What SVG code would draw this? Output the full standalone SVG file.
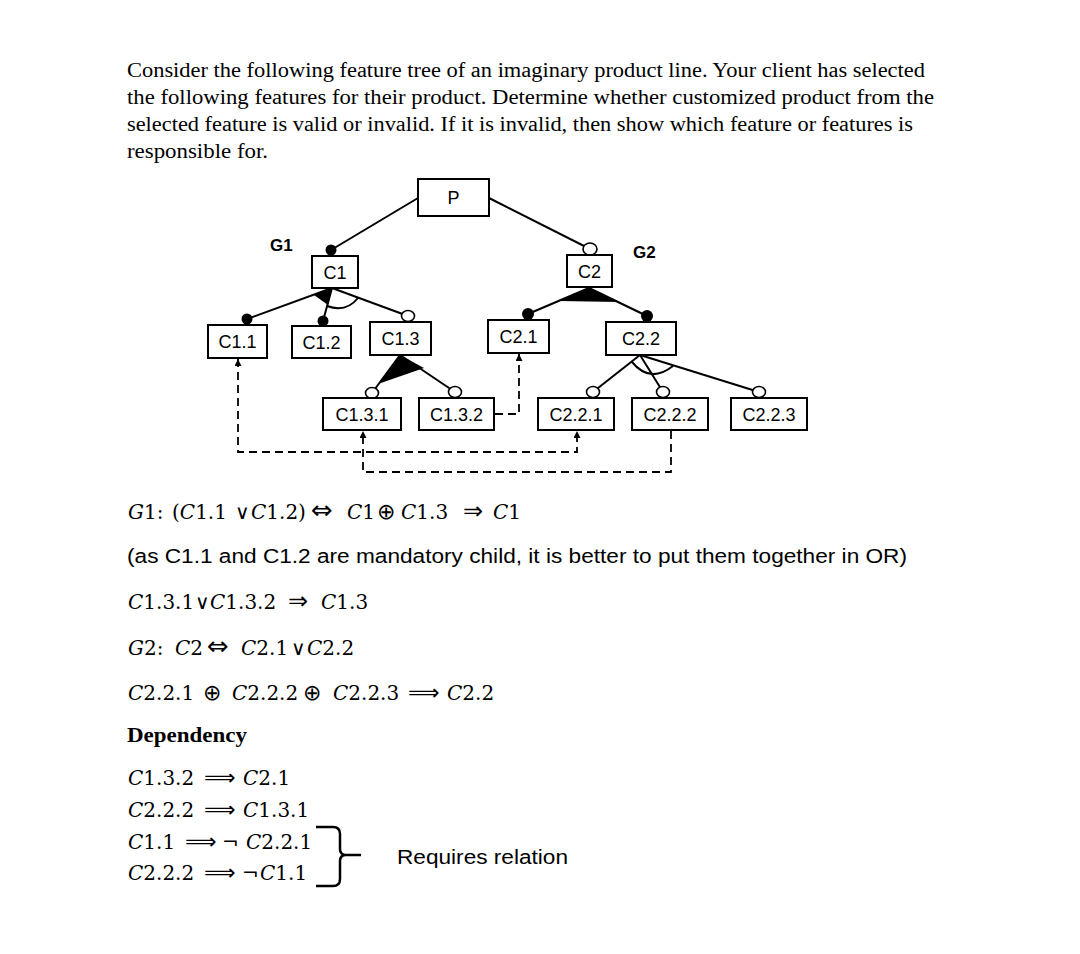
<svg xmlns="http://www.w3.org/2000/svg" width="1080" height="954" viewBox="0 0 1080 954">
<defs>
<style>
.box{fill:#fff;stroke:#000;stroke-width:2}
.lbl{font-family:"Liberation Sans","Open Sans",sans-serif;font-size:18px;text-anchor:middle;fill:#000}
.grp{font-family:"Liberation Sans",sans-serif;font-size:17px;font-weight:bold;fill:#000}
.ln{stroke:#000;stroke-width:2;fill:none}
.dot{fill:#000}
.hol{fill:#fff;stroke:#000;stroke-width:1.6}
.dash{stroke:#000;stroke-width:1.8;fill:none;stroke-dasharray:8 5}
.para{font-family:"Liberation Serif","DejaVu Serif",serif;font-size:20px;fill:#000}
.m{font-family:"DejaVu Serif","Liberation Serif",serif;font-size:20px;fill:#000}
.i{font-style:italic}
.s{font-family:"DejaVu Sans",sans-serif;font-style:normal}
.sans{font-family:"Liberation Sans","Open Sans",sans-serif;font-size:20px;fill:#000}
</style>
<marker id="arr" markerUnits="userSpaceOnUse" markerWidth="7" markerHeight="7" viewBox="0 0 10 10" refX="10" refY="5" orient="auto-start-reverse">
<path d="M0,0 L10,5 L0,10 z" fill="#000"/>
</marker>
</defs>
<rect width="1080" height="954" fill="#fff"/>

<g id="question">
<text class="para" x="127" y="77" textLength="798" lengthAdjust="spacingAndGlyphs">Consider the following feature tree of an imaginary product line. Your client has selected</text>
<text class="para" x="127" y="104" textLength="807" lengthAdjust="spacingAndGlyphs">the following features for their product. Determine whether customized product from the</text>
<text class="para" x="127" y="131" textLength="786" lengthAdjust="spacingAndGlyphs">selected feature is valid or invalid. If it is invalid, then show which feature or features is</text>
<text class="para" x="127" y="158" textLength="141" lengthAdjust="spacingAndGlyphs">responsible for.</text>
</g>

<g id="connectors">
<path class="ln" d="M418 198 L331 250"/>
<path class="ln" d="M489 198 L590 249"/>
<path class="ln" d="M332 288 L247 319"/>
<path class="ln" d="M332 288 L323 321"/>
<path class="ln" d="M332 288 L408 316"/>
<path class="ln" d="M400 355 L372 393"/>
<path class="ln" d="M400 355 L455 392"/>
<path class="ln" d="M589 288 L528 314"/>
<path class="ln" d="M589 288 L647 316"/>
<path class="ln" d="M640 355 L593 392"/>
<path class="ln" d="M640 355 L663 392"/>
<path class="ln" d="M640 355 L759 392"/>
<polygon points="332,288 314,295 328,305" fill="#000"/>
<polygon points="400,355 378,384 424,368" fill="#000"/>
<polygon points="589,288 559,301 619,302" fill="#000"/>
<path class="ln" d="M327 306 Q346 313 358 298"/>
<path class="ln" d="M632 362 Q650 384 673 366"/>
<circle class="dot" cx="331" cy="250" r="5.5"/>
<circle class="dot" cx="247" cy="319" r="5.5"/>
<circle class="dot" cx="323" cy="321" r="5.5"/>
<circle class="dot" cx="528" cy="314" r="6"/>
<circle class="dot" cx="647" cy="316" r="6"/>
<ellipse class="hol" cx="408" cy="316" rx="6.5" ry="5.5"/>
<ellipse class="hol" cx="372" cy="393" rx="6.5" ry="5.5"/>
<ellipse class="hol" cx="455" cy="392" rx="6.5" ry="5.5"/>
<ellipse class="hol" cx="590" cy="249" rx="7" ry="6"/>
<ellipse class="hol" cx="593" cy="392" rx="6.5" ry="5.5"/>
<ellipse class="hol" cx="663" cy="392" rx="6.5" ry="5.5"/>
<ellipse class="hol" cx="759" cy="392" rx="6.5" ry="5.5"/>
<path class="dash" d="M495 414 H519 V354" marker-end="url(#arr)"/>
<path class="dash" d="M238 359 V452 H577 V431" marker-start="url(#arr)" marker-end="url(#arr)"/>
<path class="dash" d="M671 431 V472 H363 V431" marker-end="url(#arr)"/>
</g>

<g id="P"><rect class="box" x="418" y="179" width="71" height="37"/><text class="lbl" x="453.5" y="204">P</text></g>
<g id="C1"><rect class="box" x="312" y="256" width="46" height="32"/><text class="lbl" x="335" y="278.5">C1</text></g>
<g id="C2"><rect class="box" x="567" y="255" width="45" height="32"/><text class="lbl" x="589.5" y="277.5">C2</text></g>
<g id="C1.1"><rect class="box" x="208" y="325" width="59" height="33"/><text class="lbl" x="237.5" y="348">C1.1</text></g>
<g id="C1.2"><rect class="box" x="292" y="326" width="59" height="32"/><text class="lbl" x="321.5" y="348.5">C1.2</text></g>
<g id="C1.3"><rect class="box" x="370" y="322" width="61" height="33"/><text class="lbl" x="400.5" y="345">C1.3</text></g>
<g id="C2.1"><rect class="box" x="488" y="320" width="61" height="33"/><text class="lbl" x="518.5" y="343">C2.1</text></g>
<g id="C2.2"><rect class="box" x="606" y="322" width="70" height="33"/><text class="lbl" x="641" y="345">C2.2</text></g>
<g id="C1.3.1"><rect class="box" x="323" y="398" width="78" height="32"/><text class="lbl" x="362" y="420.5">C1.3.1</text></g>
<g id="C1.3.2"><rect class="box" x="419" y="398" width="75" height="32"/><text class="lbl" x="456.5" y="420.5">C1.3.2</text></g>
<g id="C2.2.1"><rect class="box" x="538" y="398" width="76" height="32"/><text class="lbl" x="576" y="420.5">C2.2.1</text></g>
<g id="C2.2.2"><rect class="box" x="632" y="398" width="76" height="32"/><text class="lbl" x="670" y="420.5">C2.2.2</text></g>
<g id="C2.2.3"><rect class="box" x="731" y="398" width="76" height="32"/><text class="lbl" x="769" y="420.5">C2.2.3</text></g>
<g id="G1"><text class="grp" x="270" y="251">G1</text></g>
<g id="G2"><text class="grp" x="633" y="258">G2</text></g>

<g id="formulas">
<text class="m" y="519"><tspan x="128"><tspan class="i">G</tspan>1:</tspan><tspan x="172">(<tspan class="i">C</tspan>1.1</tspan><tspan x="235" class="s" font-size="20">∨</tspan><tspan x="251"><tspan class="i">C</tspan>1.2)</tspan><tspan x="311" class="s" font-size="26">⇔</tspan><tspan x="347"><tspan class="i">C</tspan>1</tspan><tspan x="377" class="s" font-size="22">⊕</tspan><tspan x="401"><tspan class="i">C</tspan>1.3</tspan><tspan x="463" class="s" font-size="24">⇒</tspan><tspan x="493"><tspan class="i">C</tspan>1</tspan></text>
<text class="sans" x="127" y="563" textLength="780" lengthAdjust="spacingAndGlyphs">(as C1.1 and C1.2 are mandatory child, it is better to put them together in OR)</text>
<text class="m" y="609"><tspan x="128"><tspan class="i">C</tspan>1.3.1</tspan><tspan x="195" class="s" font-size="20">∨</tspan><tspan x="210"><tspan class="i">C</tspan>1.3.2</tspan><tspan x="288" class="s" font-size="24">⇒</tspan><tspan x="321"><tspan class="i">C</tspan>1.3</tspan></text>
<text class="m" y="655"><tspan x="128"><tspan class="i">G</tspan>2:</tspan><tspan x="175"><tspan class="i">C</tspan>2</tspan><tspan x="207" class="s" font-size="26">⇔</tspan><tspan x="241"><tspan class="i">C</tspan>2.1</tspan><tspan x="291" class="s" font-size="20">∨</tspan><tspan x="307"><tspan class="i">C</tspan>2.2</tspan></text>
<text class="m" y="700"><tspan x="128"><tspan class="i">C</tspan>2.2.1</tspan><tspan x="203" class="s" font-size="22">⊕</tspan><tspan x="232"><tspan class="i">C</tspan>2.2.2</tspan><tspan x="303" class="s" font-size="22">⊕</tspan><tspan x="333"><tspan class="i">C</tspan>2.2.3</tspan><tspan x="408" class="s" font-size="22">⟹</tspan><tspan x="447"><tspan class="i">C</tspan>2.2</tspan></text>
</g>

<g id="dependency">
<text class="para" x="127" y="742" font-weight="bold" textLength="120" lengthAdjust="spacingAndGlyphs">Dependency</text>
<text class="m" y="785"><tspan x="128"><tspan class="i">C</tspan>1.3.2</tspan><tspan x="204" class="s" font-size="22">⟹</tspan><tspan x="243"><tspan class="i">C</tspan>2.1</tspan></text>
<text class="m" y="817"><tspan x="128"><tspan class="i">C</tspan>2.2.2</tspan><tspan x="204" class="s" font-size="22">⟹</tspan><tspan x="243"><tspan class="i">C</tspan>1.3.1</tspan></text>
<text class="m" y="849"><tspan x="128"><tspan class="i">C</tspan>1.1</tspan><tspan x="185" class="s" font-size="22">⟹</tspan><tspan x="222" class="s" font-size="20">¬</tspan><tspan x="246"><tspan class="i">C</tspan>2.2.1</tspan></text>
<text class="m" y="880"><tspan x="128"><tspan class="i">C</tspan>2.2.2</tspan><tspan x="204" class="s" font-size="22">⟹</tspan><tspan x="242" class="s" font-size="20">¬</tspan><tspan x="260"><tspan class="i">C</tspan>1.1</tspan></text>
<path d="M316 827 L333 827 Q340 827 340 834 L340 849 Q340 855 346 855 L361 855 M346 855 Q340 855 340 861 L340 879 Q340 886 333 886 L316 886" fill="none" stroke="#000" stroke-width="2.5"/>
<text class="sans" x="397" y="864" textLength="171" lengthAdjust="spacingAndGlyphs">Requires relation</text>
</g>
</svg>
